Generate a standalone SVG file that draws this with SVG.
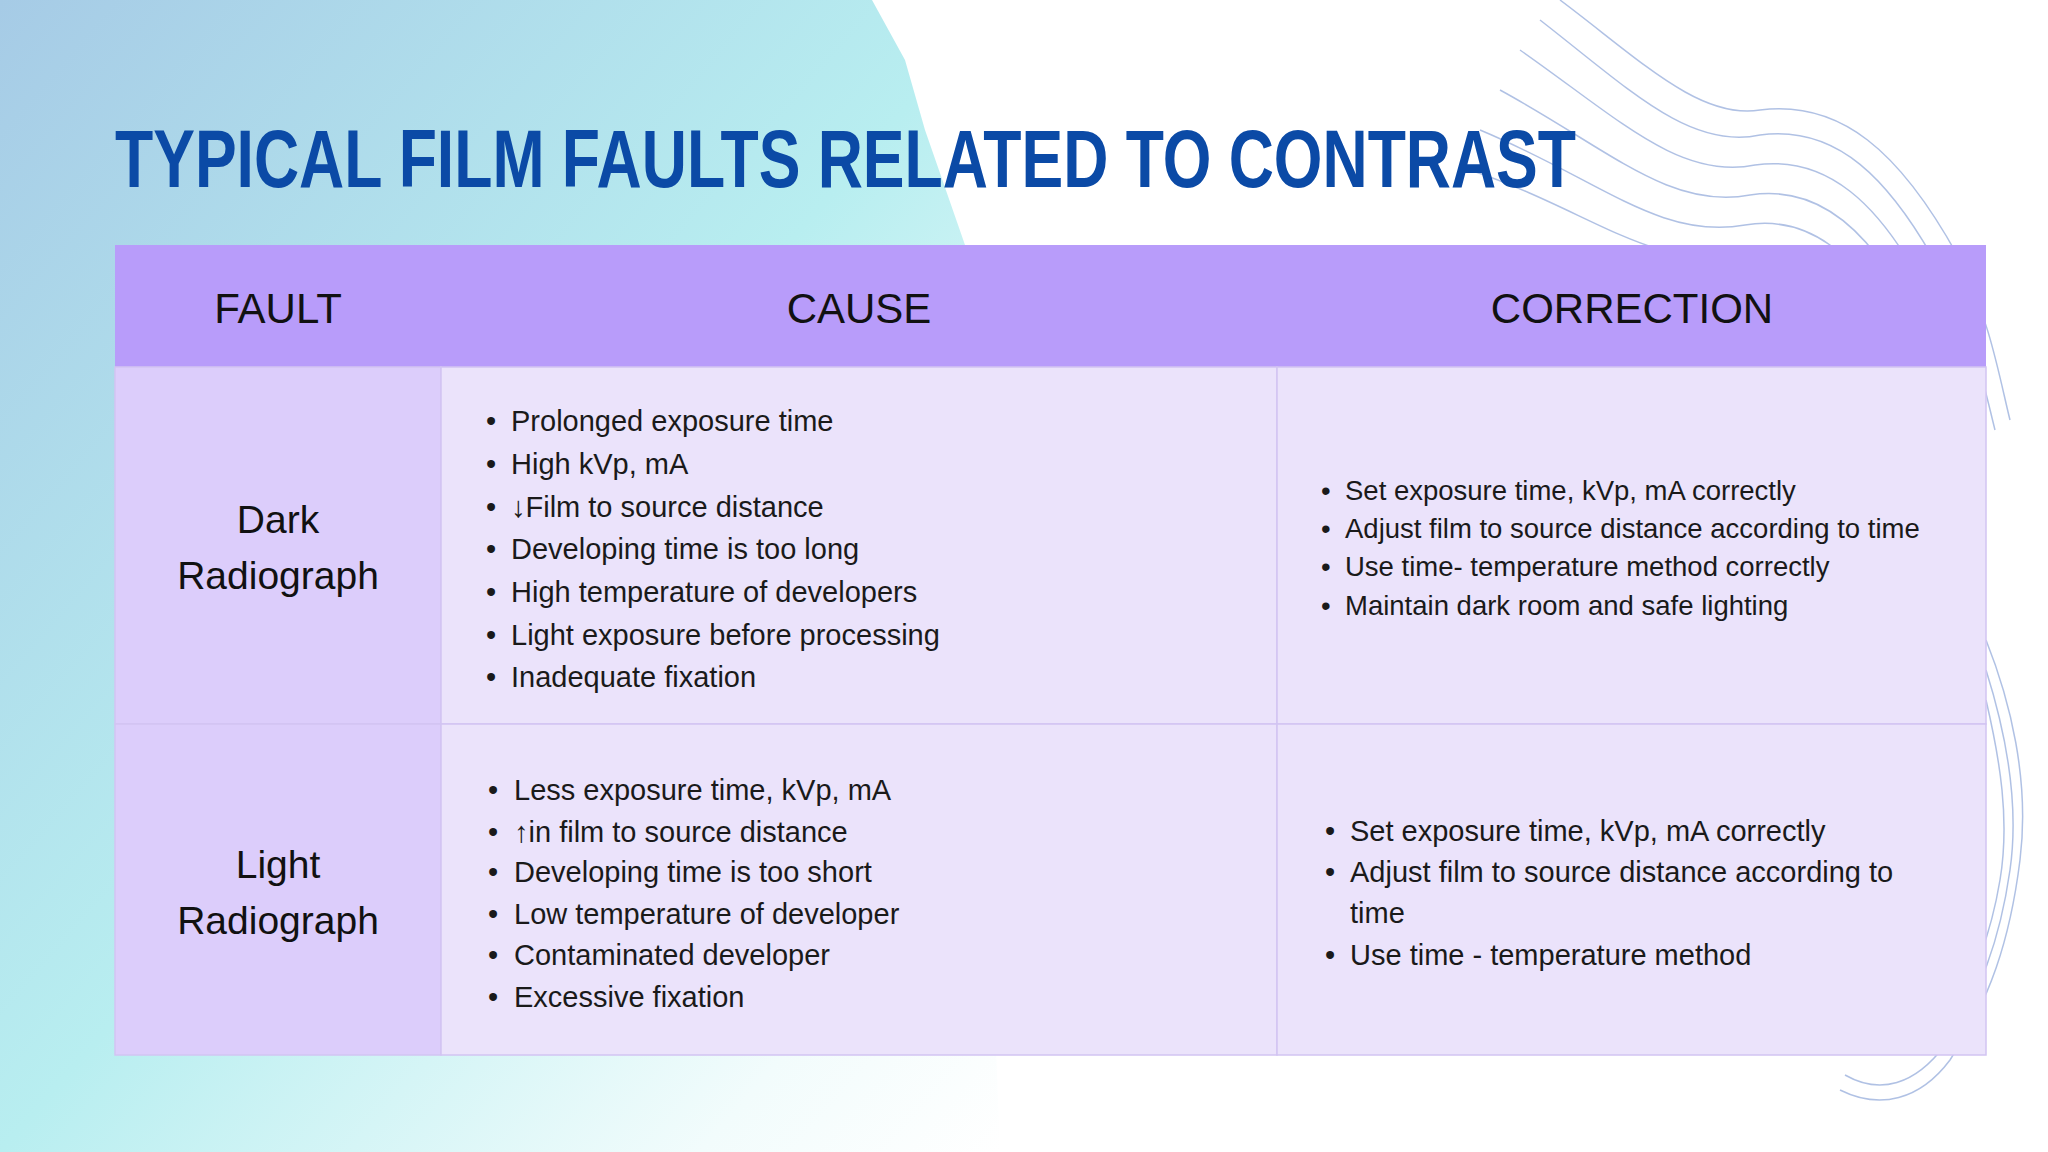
<svg xmlns="http://www.w3.org/2000/svg" width="2048" height="1152" viewBox="0 0 2048 1152">
<defs>
<linearGradient id="bg" x1="0" y1="0" x2="1" y2="1">
<stop offset="0" stop-color="#a6cbe6"/>
<stop offset="0.5" stop-color="#b8eef0"/>
<stop offset="0.85" stop-color="#f2fcfc"/>
<stop offset="1" stop-color="#ffffff"/>
</linearGradient>
<style>
.h{font-family:"Liberation Sans",Arial,sans-serif;font-size:42px;fill:#111;text-anchor:middle}
.f{font-family:"Liberation Sans",Arial,sans-serif;font-size:39px;fill:#111;text-anchor:middle}
.t{font-family:"Liberation Sans",Arial,sans-serif;font-size:29px;fill:#1a1a1a}
.c{font-family:"Liberation Sans",Arial,sans-serif;font-size:27.5px;fill:#1a1a1a}
.w{fill:none;stroke:#8fa6d8;stroke-width:1.5;opacity:.7}
</style>
</defs>
<rect width="2048" height="1152" fill="#ffffff"/>
<path d="M0 0H872L905 60L925 130L965 245L1000 1152H0Z" fill="url(#bg)"/>
<g id="waves">
<path class="w" d="M1560 0C1640 60 1700 120 1760 110C1840 100 1900 150 1960 260C1990 320 2000 380 2010 420"/>
<path class="w" d="M1540 20C1630 90 1690 150 1760 135C1835 125 1890 175 1945 280C1975 340 1985 390 1995 430"/>
<path class="w" d="M1520 50C1620 120 1680 180 1755 165C1825 155 1880 200 1930 300C1960 360 1970 400 1980 440"/>
<path class="w" d="M1500 90C1610 150 1670 210 1750 195C1815 185 1870 225 1915 320C1945 380 1955 420 1965 450"/>
<path class="w" d="M1480 130C1600 180 1660 240 1745 225C1805 215 1860 250 1900 340"/>
<path class="w" d="M1470 170C1590 210 1650 270 1740 255C1795 245 1850 275 1885 360"/>
<path class="w" d="M1986 640C2010 700 2030 780 2020 860C2010 940 1990 1000 1950 1060C1920 1100 1880 1110 1840 1090"/>
<path class="w" d="M1986 670C2005 730 2020 800 2010 870C2000 940 1980 995 1945 1045C1915 1085 1880 1095 1845 1075"/>
<path class="w" d="M1986 700C2000 760 2010 820 2000 880C1990 940 1970 990 1940 1030"/>
</g>
<text x="115" y="187" font-family="Liberation Sans,Arial,sans-serif" font-weight="bold" font-size="82" fill="#0b4aa6" textLength="1461" lengthAdjust="spacingAndGlyphs">TYPICAL FILM FAULTS RELATED TO CONTRAST</text>
<g id="table" stroke="#d2c4f2" stroke-width="1.5">
<rect x="115" y="245" width="1871" height="122" fill="#b89cfa" stroke="none"/>
<rect x="115" y="367" width="326" height="357" fill="#dccdfb"/>
<rect x="441" y="367" width="836" height="357" fill="#ebe3fb"/>
<rect x="1277" y="367" width="709" height="357" fill="#ebe3fb"/>
<rect x="115" y="724" width="326" height="331" fill="#dccdfb"/>
<rect x="441" y="724" width="836" height="331" fill="#ebe3fb"/>
<rect x="1277" y="724" width="709" height="331" fill="#ebe3fb"/>
</g>
<g id="header">
<text class="h" x="278" y="323">FAULT</text>
<text class="h" x="859" y="323">CAUSE</text>
<text class="h" x="1632" y="323">CORRECTION</text>
</g>
<g id="fault1"><text class="f" x="278" y="533">Dark</text><text class="f" x="278" y="589">Radiograph</text></g>
<g id="fault2"><text class="f" x="278" y="878">Light</text><text class="f" x="278" y="934">Radiograph</text></g>
<g id="cause1" class="t">
<text x="486" y="431">•</text><text x="511" y="431">Prolonged exposure time</text>
<text x="486" y="474">•</text><text x="511" y="474">High kVp, mA</text>
<text x="486" y="517">•</text><text x="511" y="517">↓Film to source distance</text>
<text x="486" y="559">•</text><text x="511" y="559">Developing time is too long</text>
<text x="486" y="602">•</text><text x="511" y="602">High temperature of developers</text>
<text x="486" y="645">•</text><text x="511" y="645">Light exposure before processing</text>
<text x="486" y="687">•</text><text x="511" y="687">Inadequate fixation</text>
</g>
<g id="corr1" class="c">
<text x="1321" y="500">•</text><text x="1345" y="500">Set exposure time, kVp, mA correctly</text>
<text x="1321" y="538">•</text><text x="1345" y="538">Adjust film to source distance according to time</text>
<text x="1321" y="576">•</text><text x="1345" y="576">Use time- temperature method correctly</text>
<text x="1321" y="615">•</text><text x="1345" y="615">Maintain dark room and safe lighting</text>
</g>
<g id="cause2" class="t">
<text x="488" y="800">•</text><text x="514" y="800">Less exposure time, kVp, mA</text>
<text x="488" y="842">•</text><text x="514" y="842">↑in film to source distance</text>
<text x="488" y="882">•</text><text x="514" y="882">Developing time is too short</text>
<text x="488" y="924">•</text><text x="514" y="924">Low temperature of developer</text>
<text x="488" y="965">•</text><text x="514" y="965">Contaminated developer</text>
<text x="488" y="1007">•</text><text x="514" y="1007">Excessive fixation</text>
</g>
<g id="corr2" class="t">
<text x="1325" y="841">•</text><text x="1350" y="841">Set exposure time, kVp, mA correctly</text>
<text x="1325" y="882">•</text><text x="1350" y="882">Adjust film to source distance according to</text>
<text x="1350" y="923">time</text>
<text x="1325" y="965">•</text><text x="1350" y="965">Use time - temperature method</text>
</g>
</svg>
